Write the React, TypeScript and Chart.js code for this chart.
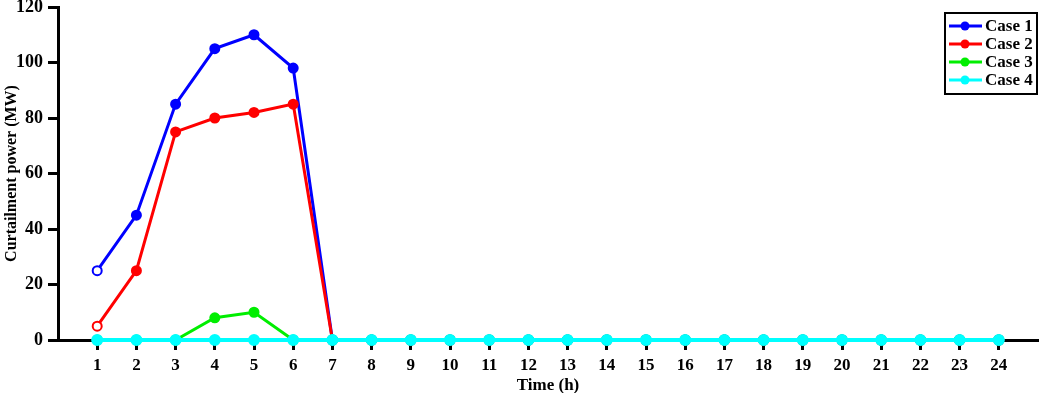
import React, { useEffect, useRef } from "react";
import { Chart, registerables } from "chart.js";

Chart.register(...registerables);

const hours = [1, 2, 3, 4, 5, 6, 7, 8, 9, 10, 11, 12, 13, 14, 15, 16, 17, 18, 19, 20, 21, 22, 23, 24];
const seriesNames = ["Case 1", "Case 2", "Case 3", "Case 4"];
const seriesColors = ["#0000FF", "#FF0000", "#00EE00", "#00FFFF"];
const case1 = [25, 45, 85, 105, 110, 98, 0, 0, 0, 0, 0, 0, 0, 0, 0, 0, 0, 0, 0, 0, 0, 0, 0, 0];
const case2 = [5, 25, 75, 80, 82, 85, 0, 0, 0, 0, 0, 0, 0, 0, 0, 0, 0, 0, 0, 0, 0, 0, 0, 0];
const case3 = [0, 0, 0, 8, 10, 0, 0, 0, 0, 0, 0, 0, 0, 0, 0, 0, 0, 0, 0, 0, 0, 0, 0, 0];
const case4 = [0, 0, 0, 0, 0, 0, 0, 0, 0, 0, 0, 0, 0, 0, 0, 0, 0, 0, 0, 0, 0, 0, 0, 0];
const seriesValues = [case1, case2, case3, case4];
const hollowFirst = [true, true, false, false];
const yTicks = [0, 20, 40, 60, 80, 100, 120];

const FONT = "'Liberation Serif', 'Times New Roman', serif";

const legendPlugin = {
  id: "boxLegend",
  afterDraw(chart: any) {
    const ctx = chart.ctx;
    ctx.save();
    const x0 = 945, y0 = 13, w = 92, h = 81;
    ctx.strokeStyle = "#000";
    ctx.lineWidth = 2;
    ctx.strokeRect(x0, y0, w, h);
    ctx.font = `bold 17px ${FONT}`;
    ctx.textBaseline = "middle";
    ctx.textAlign = "left";
    seriesNames.forEach((name, i) => {
      const y = y0 + 13 + i * 18;
      ctx.strokeStyle = seriesColors[i];
      ctx.lineWidth = 3;
      ctx.beginPath();
      ctx.moveTo(x0 + 4, y);
      ctx.lineTo(x0 + 37, y);
      ctx.stroke();
      ctx.fillStyle = seriesColors[i];
      ctx.beginPath();
      ctx.arc(x0 + 20, y, 4.5, 0, Math.PI * 2);
      ctx.fill();
      ctx.fillStyle = "#000";
      ctx.fillText(name, x0 + 40, y + 1);
    });
    ctx.restore();
  },
};

export default function App() {
  const ref = useRef<HTMLCanvasElement>(null);
  useEffect(() => {
    if (!ref.current) return;
    Chart.defaults.font.family = FONT;
    const orders = [3, 2, 1, 0];
    const chart = new Chart(ref.current, {
      type: "line",
      data: {
        datasets: seriesNames.map((name, si) => ({
          label: name,
          data: hours.map((h, i) => ({ x: h, y: seriesValues[si][i] })),
          borderColor: seriesColors[si],
          backgroundColor: seriesColors[si],
          pointBackgroundColor: hours.map((_, i) =>
            i === 0 && hollowFirst[si] ? "#FFFFFF" : seriesColors[si]
          ),
          pointBorderColor: seriesColors[si],
          pointRadius: si === 3 ? 5 : 4.5,
          pointBorderWidth: 2,
          borderWidth: si === 3 ? 4 : 3,
          order: orders[si],
          clip: false as any,
          tension: 0,
        })),
      },
      plugins: [legendPlugin],
      options: {
        animation: false,
        responsive: false,
        devicePixelRatio: 1,
        layout: { padding: { top: 5, right: 0, left: 0, bottom: 0 } },
        plugins: { legend: { display: false }, tooltip: { enabled: false } },
        events: [],
        scales: {
          x: {
            type: "linear",
            min: 0,
            max: 25,
            afterBuildTicks: (s: any) => {
              s.ticks = hours.map((v) => ({ value: v }));
            },
            afterFit: (s: any) => {
              s.height = 53;
              s.paddingLeft = 0;
              s.paddingRight = 0;
            },
            ticks: {
              autoSkip: false,
              maxRotation: 0,
              color: "#000",
              padding: 5,
              font: { size: 17, weight: "bold" },
            },
            grid: {
              drawOnChartArea: false,
              drawTicks: true,
              tickLength: 10,
              tickColor: "#000",
              tickWidth: 3,
            },
            border: { color: "#000", width: 3 },
            title: {
              display: true,
              text: "Time (h)",
              color: "#000",
              font: { size: 17, weight: "bold" },
              padding: { top: 0, bottom: -3 },
            },
          },
          y: {
            min: 0,
            max: 120,
            afterBuildTicks: (s: any) => {
              s.ticks = yTicks.map((v) => ({ value: v }));
            },
            afterFit: (s: any) => {
              s.width = 58;
              s.paddingTop = 0;
              s.paddingBottom = 0;
            },
            ticks: {
              color: "#000",
              padding: 5,
              font: { size: 18, weight: "bold" },
            },
            grid: {
              drawOnChartArea: false,
              drawTicks: true,
              tickLength: 10,
              tickColor: "#000",
              tickWidth: 3,
            },
            border: { color: "#000", width: 3 },
            title: {
              display: true,
              text: "Curtailment power (MW)",
              color: "#000",
              font: { size: 16, weight: "bold" },
              padding: { top: 2, bottom: 0 },
            },
          },
        },
      } as any,
    });
    return () => chart.destroy();
  }, []);
  return (
    <div style={{ position: "absolute", left: 0, top: 0, width: 1045, height: 393 }}>
      <canvas ref={ref} width={1045} height={393} />
    </div>
  );
}
